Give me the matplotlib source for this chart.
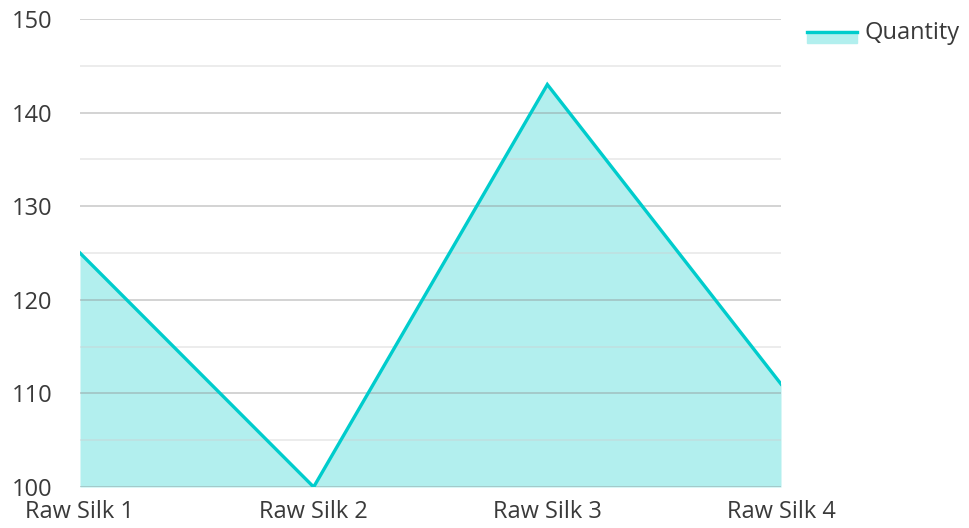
import matplotlib.pyplot as plt
from matplotlib.lines import Line2D
from matplotlib.patches import Rectangle
from matplotlib.ticker import MultipleLocator

plt.rcParams['font.family'] = ['Open Sans', 'DejaVu Sans']

# data
categories = ['Raw Silk 1', 'Raw Silk 2', 'Raw Silk 3', 'Raw Silk 4']
quantity = [125, 100, 143, 111]

line_color = '#00CCCC'
fill_color = '#B2EFEE'
text_color = '#3a3a3a'

W, H = 970, 528
fig = plt.figure(figsize=(W / 100, H / 100), dpi=100)
ax = fig.add_axes([80 / W, 1 - 487 / H, (781 - 80) / W, (487 - 19) / H])

x = list(range(len(categories)))
ax.fill_between(x, quantity, 100, color=fill_color, lw=0, zorder=1)
ax.plot(x, quantity, color=line_color, lw=2.4, zorder=3, solid_joinstyle='miter')

ax.set_xlim(0, len(categories) - 1)
ax.set_ylim(100, 150)
ax.yaxis.set_major_locator(MultipleLocator(10))
ax.yaxis.set_minor_locator(MultipleLocator(5))
ax.set_xticks(x)
ax.set_xticklabels(categories)

# grid on top of the fill, like the reference
ax.grid(axis='y', which='major', color='#8f8f8f', alpha=0.45, lw=1.2, zorder=2)
ax.grid(axis='y', which='minor', color='#cfcfcf', alpha=0.45, lw=1.2, zorder=2)
ax.set_axisbelow(False)
ax.tick_params(axis='both', which='both', length=0, labelsize=17, colors=text_color)
ax.tick_params(axis='y', pad=20)
ax.tick_params(axis='x', pad=9)
for s in ax.spines.values():
    s.set_visible(False)

# legend drawn by hand: fill swatch with the line along its top
fig.patches.append(Rectangle((807 / W, 1 - 43 / H), 50 / W, 12 / H,
                             transform=fig.transFigure, color=fill_color, figure=fig))
fig.lines.append(Line2D([807 / W, 857 / W], [1 - 32 / H, 1 - 32 / H],
                        transform=fig.transFigure, color=line_color, lw=2.4, figure=fig))
fig.text(865 / W, 1 - 33 / H, 'Quantity', fontsize=17, color=text_color,
         va='center', ha='left')

fig.savefig('out.png', dpi=100)
